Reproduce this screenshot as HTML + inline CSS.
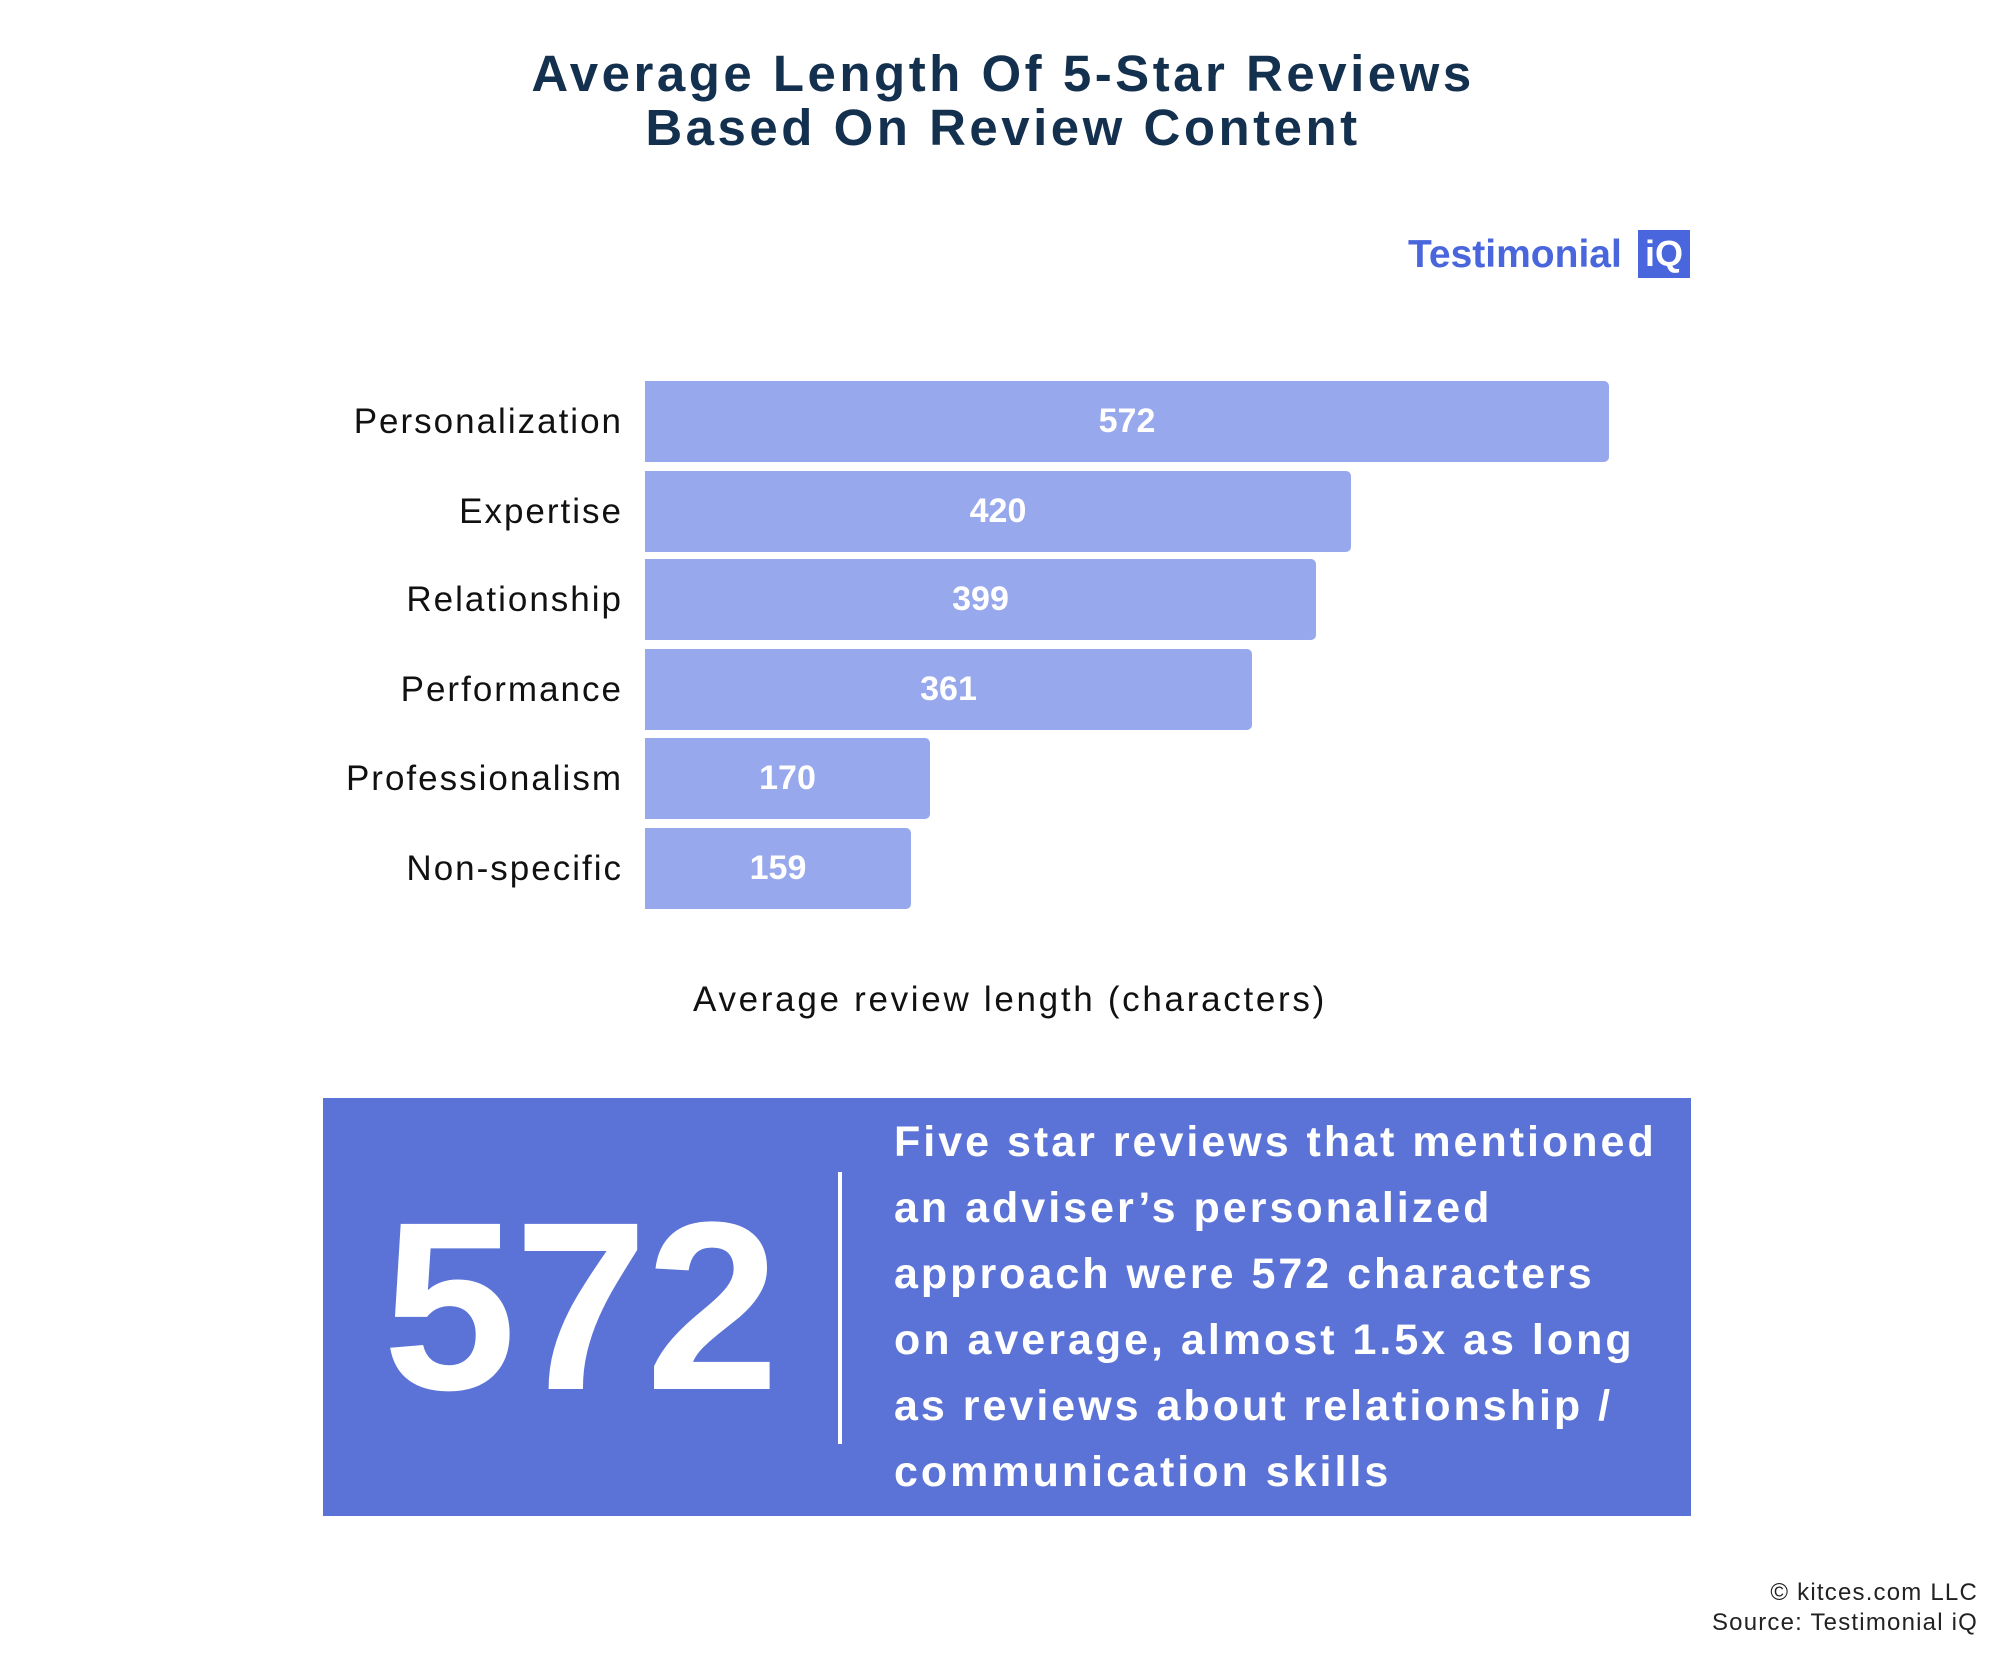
<!DOCTYPE html>
<html><head><meta charset="utf-8"><style>
body{margin:0;width:2000px;height:1655px;background:#fff;position:relative;overflow:hidden;font-family:"Liberation Sans",sans-serif}
.a{position:absolute}
.t{left:0;width:2006px;text-align:center;color:#13304f;font-weight:bold;font-size:51px;letter-spacing:3.5px;line-height:54px}
.lbl{right:1377px;font-size:35px;letter-spacing:2px;color:#111;text-align:right;line-height:81px}
.bar{left:645px;height:81px;background:#97a8ec;border-radius:0 5px 5px 0;color:#fff;font-weight:bold;font-size:34px;line-height:81px;text-align:center}
.p{left:894px;color:#fff;font-weight:bold;font-size:43px;letter-spacing:3px;line-height:66px;white-space:nowrap}
</style></head><body>
<div class="a t" style="top:47px">Average Length Of 5-Star Reviews</div>
<div class="a t" style="top:101px">Based On Review Content</div>
<div class="a" style="left:1408px;top:232px;font-size:39px;font-weight:bold;color:#4a66dc;line-height:46px">Testimonial</div>
<div class="a" style="left:1638px;top:230px;width:52px;height:48px;background:#4a66dc;color:#fff;font-weight:bold;font-size:36px;line-height:48px;text-align:center">iQ</div>

<div class="a lbl" style="top:381px">Personalization</div>
<div class="a lbl" style="top:471px">Expertise</div>
<div class="a lbl" style="top:559px">Relationship</div>
<div class="a lbl" style="top:649px">Performance</div>
<div class="a lbl" style="top:738px">Professionalism</div>
<div class="a lbl" style="top:828px">Non-specific</div>

<div class="a bar" style="top:381px;width:964px">572</div>
<div class="a bar" style="top:471px;width:706px">420</div>
<div class="a bar" style="top:559px;width:671px">399</div>
<div class="a bar" style="top:649px;width:607px">361</div>
<div class="a bar" style="top:738px;width:285px">170</div>
<div class="a bar" style="top:828px;width:266px">159</div>

<div class="a" style="left:0;width:2020px;text-align:center;top:980px;font-size:35px;letter-spacing:2.7px;color:#111">Average review length (characters)</div>

<div class="a" style="left:323px;top:1098px;width:1368px;height:418px;background:#5b73d6"></div>
<div class="a" style="left:360px;top:1176px;width:440px;text-align:center;color:#fff;font-weight:bold;font-size:240px;line-height:260px;letter-spacing:-2px">572</div>
<div class="a" style="left:838px;top:1172px;width:4px;height:272px;background:#fff"></div>
<div class="a p" style="top:1109px">Five star reviews that mentioned</div>
<div class="a p" style="top:1175px">an adviser’s personalized</div>
<div class="a p" style="top:1241px">approach were 572 characters</div>
<div class="a p" style="top:1307px">on average, almost 1.5x as long</div>
<div class="a p" style="top:1373px">as reviews about relationship /</div>
<div class="a p" style="top:1439px">communication skills</div>

<div class="a" style="right:22px;top:1578px;font-size:24px;letter-spacing:1.2px;color:#222;text-align:right;line-height:30px">© kitces.com LLC<br>Source: Testimonial iQ</div>
</body></html>
